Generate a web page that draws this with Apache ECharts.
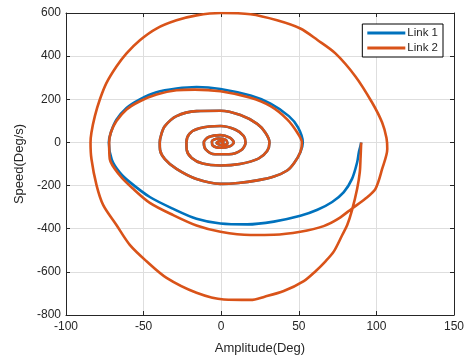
<!DOCTYPE html>
<html><head><meta charset="utf-8">
<script src="https://cdn.jsdelivr.net/npm/echarts@6/dist/echarts.min.js"></script>
<style>html,body{margin:0;padding:0;background:#fff}#c{width:474px;height:360px}</style>
</head><body><div id="c"></div>
<script>
// Link 1 (blue): outer part until it merges with the inner spiral
const link1OuterX = [90.2, 89.6, 88.7, 87.6, 84.3, 79, 71.5, 62, 51, 33.9, 16.8, -0.5, -15.9, -30.9, -46, -58.9, -65.3, -70.5, -72.4, -71.1, -67.5, -61, -52.4, -41.7, -28.8, -15.9, -0.5, 18.9, 31.8, 43.6, 49.5, 52.6];
const link1OuterY = [0, -20, -45, -92, -169, -230, -276, -312, -340, -367, -380, -376, -354, -308, -253, -184, -140, -80, 0, 46, 105, 160, 200, 233, 250, 257, 248, 217, 180, 122, 70, 0];
// Link 2 (orange): outer loops until it merges with the inner spiral
const link2OuterX = [90.2, 89.8, 89.3, 87.6, 84.3, 81.2, 78, 72.6, 67.2, 60.8, 53.2, 40.3, 28, 18.9, 1.7, -15.9, -35.2, -48.1, -58.9, -67.5, -76, -80.3, -83.6, -84.2, -83.6, -81.4, -78.2, -73.9, -67.5, -61, -52.4, -41.7, -28.8, -15.9, -0.5, 18.9, 36, 51, 62, 73.6, 86.5, 97.3, 103.7, 106.5, 107, 103.7, 99.4, 93, 84.3, 75.8, 66, 51, 33.9, 18.9, -0.5, -15.9, -30.9, -46, -56.7, -65.3, -71.8, -72.2, -71.1, -67.5, -61, -52.4, -41.7, -28.8, -17, -0.5, 18.9, 31.8, 42.5, 49, 52];
const link2OuterY = [0, -70, -138, -215, -314, -383, -429, -505, -551, -597, -643, -689, -715, -730, -728, -697, -628, -551, -475, -383, -291, -199, -77, 0, 46, 122, 199, 276, 352, 413, 474, 528, 566, 589, 600, 594, 566, 528, 475, 413, 306, 184, 92, 20, -31, -123, -215, -260, -306, -352, -388, -414, -428, -429, -414, -385, -337, -280, -215, -153, -77, 0, 46, 99, 153, 191, 222, 242, 245, 237, 207, 168, 107, 46, 0];
// Inner spiral shared by both links (they overlap there)
const innerX = [51, 47, 42.5, 34, 23.2, 11, -0.5, -15.9, -28.8, -36.3, -39.4, -39.6, -38.5, -36.3, -28.8, -15.9, -0.5, 12.4, 23.2, 28.5, 31.1, 29.6, 24, 12, -0.5, -12, -19, -22.2, -22.4, -20.5, -14, -0.5, 9, 14.5, 15.7, 13, 5, -4, -10, -11.2, -8, -0.5, 5.5, 8.1, 5.5, -0.5, -5.5, -6, -2, 3, 4, 0, -3, -1, 1.5, 0];
const innerY = [-45, -95, -130, -158, -176, -188, -192, -170, -123, -77, -35, 0, 40, 76, 122, 145, 147, 127, 86, 45, 0, -40, -75, -100, -107, -98, -72, -35, 0, 40, 66, 76, 60, 30, 0, -35, -55, -55, -32, 0, 25, 34, 22, 0, -18, -25, -14, 5, 18, 12, -5, -12, -3, 6, 2, -3];

const xTicks = {min: -100, max: 150, interval: 50};
const yTicks = {min: -800, max: 600, interval: 200};

function pairs(xs, ys) { return xs.map((x, i) => [x, ys[i]]); }
const link1 = pairs(link1OuterX.concat(innerX), link1OuterY.concat(innerY));
const link2 = pairs(link2OuterX.concat(innerX), link2OuterY.concat(innerY));

const chart = echarts.init(document.getElementById('c'), null, {renderer: 'canvas'});
const txt = '#262626';
const font = 'Liberation Sans, Arial, sans-serif';
const axisCommon = {
  axisLine: {show: true, onZero: false, lineStyle: {color: txt, width: 1}},
  axisTick: {show: true, inside: true, length: 4, lineStyle: {color: txt}},
  splitLine: {show: true, lineStyle: {color: '#dedede', width: 1}},
};
chart.setOption({
  animation: false,
  backgroundColor: '#fff',
  textStyle: {fontFamily: font},
  grid: {left: 66, right: 20, top: 13, bottom: 41, show: false},
  legend: {
    right: 31, top: 24, orient: 'vertical',
    borderColor: '#000', borderWidth: 1, padding: [3, 5, 3, 5],
    backgroundColor: '#fff',
    icon: 'rect', itemWidth: 38, itemHeight: 3, itemGap: 3,
    textStyle: {fontSize: 11.5, color: txt, fontFamily: font, padding: [0, 0, 0, -3]},
    data: ['Link 1', 'Link 2']
  },
  xAxis: [
    Object.assign({type: 'value', position: 'bottom', min: xTicks.min, max: xTicks.max, interval: xTicks.interval,
      name: 'Amplitude(Deg)', nameLocation: 'middle', nameGap: 27,
      nameTextStyle: {fontSize: 13, color: txt, fontFamily: font},
      axisLabel: {fontSize: 12, color: txt, margin: 6, fontFamily: font}}, axisCommon),
    {type: 'value', position: 'top', min: xTicks.min, max: xTicks.max, interval: xTicks.interval,
      axisLine: {show: true, onZero: false, lineStyle: {color: txt}}, axisTick: {show: true, inside: true, length: 4, lineStyle: {color: txt}},
      axisLabel: {show: false}, splitLine: {show: false}}
  ],
  yAxis: [
    Object.assign({type: 'value', position: 'left', min: yTicks.min, max: yTicks.max, interval: yTicks.interval,
      name: 'Speed(Deg/s)', nameLocation: 'middle', nameGap: 38,
      nameTextStyle: {fontSize: 13, color: txt, fontFamily: font},
      axisLabel: {fontSize: 12, color: txt, margin: 5, fontFamily: font}}, axisCommon),
    {type: 'value', position: 'right', min: yTicks.min, max: yTicks.max, interval: yTicks.interval,
      axisLine: {show: true, onZero: false, lineStyle: {color: txt}}, axisTick: {show: true, inside: true, length: 4, lineStyle: {color: txt}},
      axisLabel: {show: false}, splitLine: {show: false}}
  ],
  series: [
    {name: 'Link 1', type: 'line', data: link1, showSymbol: false, symbol: 'none', smooth: 0.3,
      lineStyle: {color: '#0072BD', width: 2.6}, itemStyle: {color: '#0072BD'}},
    {name: 'Link 2', type: 'line', data: link2, showSymbol: false, symbol: 'none', smooth: 0.3,
      lineStyle: {color: '#D95319', width: 2.6}, itemStyle: {color: '#D95319'}}
  ]
});
</script></body></html>
